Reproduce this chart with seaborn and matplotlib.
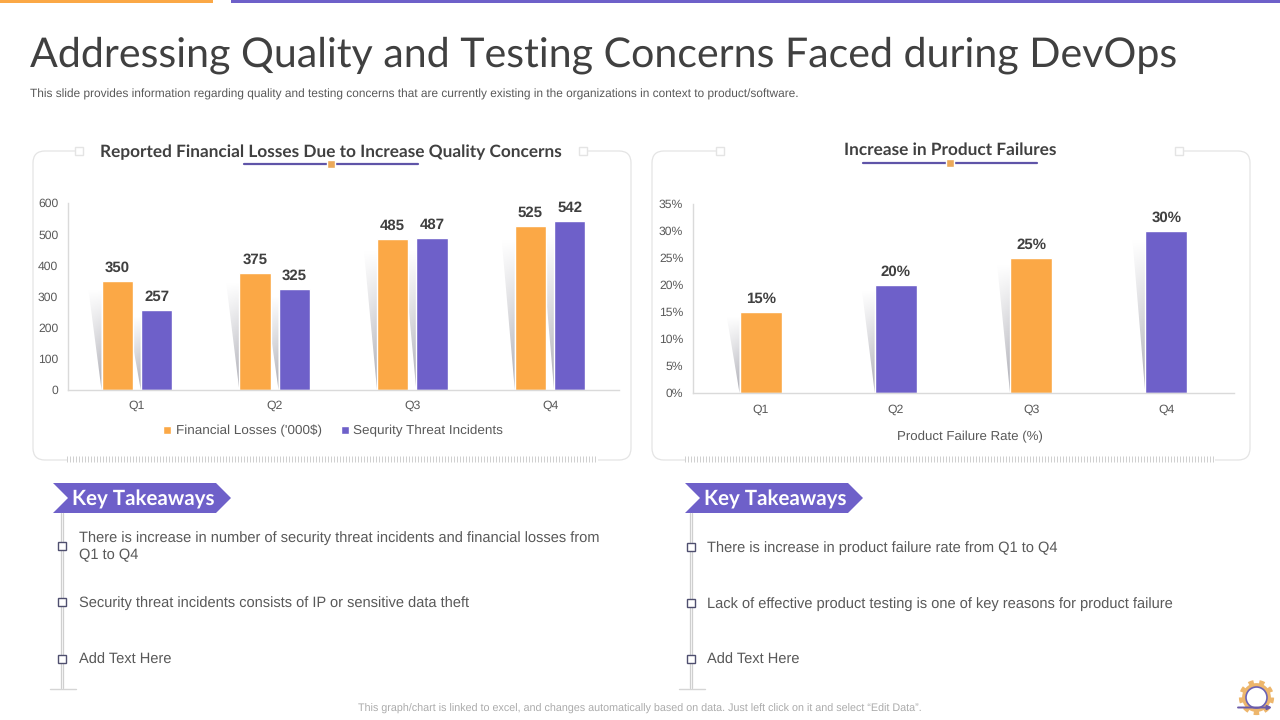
import numpy as np
import pandas as pd
import seaborn as sns
import matplotlib.pyplot as plt
from matplotlib.colors import LinearSegmentedColormap
from matplotlib.patches import Circle, FancyBboxPatch, Polygon, Rectangle

quarters = ["Q1", "Q2", "Q3", "Q4"]
financial_losses = [350, 375, 485, 525]
security_incidents = [257, 325, 487, 542]
failure_rate = [15, 20, 25, 30]
loss_ticks = [0, 100, 200, 300, 400, 500, 600]
rate_ticks = [0, 5, 10, 15, 20, 25, 30, 35]

ORANGE = "#FBA846"
PURPLE = "#6E60C9"
DARK = "#404040"
GREY = "#595959"
EDGE = "#E4E4E4"

sns.set_theme(style="white")
plt.rcParams["font.family"] = ["Liberation Sans", "DejaVu Sans"]
plt.rcParams["text.hinting"] = "no_hinting"

fig = plt.figure(figsize=(12.8, 7.2), dpi=100, facecolor="white")

# background layer works in pixels of the slide
bg = fig.add_axes([0, 0, 1, 1])
bg.set_xlim(0, 1280)
bg.set_ylim(720, 0)
bg.axis("off")

bg.add_patch(Rectangle((0, 0), 213, 3, color=ORANGE, lw=0))
bg.add_patch(Rectangle((231, 0), 1049, 3, color=PURPLE, lw=0))

bg.text(30, 55, "Addressing Quality and Testing Concerns Faced during DevOps",
        family="Lato", fontsize=29.6, color=DARK, va="center")
bg.text(30, 94, "This slide provides information regarding quality and testing concerns "
        "that are currently existing in the organizations in context to product/software.",
        fontsize=8.6, color=GREY, va="center")


def panel(x0, x1, gap0, gap1, strip0, strip1, title, title_y, title_x, under0, under1, under_y):
    bg.add_patch(FancyBboxPatch((x0 + 12, 163), x1 - x0 - 24, 285, boxstyle="round,pad=12,rounding_size=12",
                                fc="none", ec=EDGE, lw=0.9))
    bg.add_patch(Rectangle((gap0, 148), gap1 - gap0, 6, color="white", lw=0, zorder=2))
    bg.add_patch(Rectangle((strip0, 456), strip1 - strip0, 7, color="white", lw=0, zorder=2))
    bg.vlines(np.arange(strip0, strip1, 3), 456, 462, color="#CFCFCF", lw=0.7, zorder=3)
    for sx in (gap0, gap1):
        bg.add_patch(Rectangle((sx - 4, 147), 8, 8, fc="white", ec=EDGE, lw=1, zorder=3))
    bg.text(title_x, title_y, title, family="Lato", fontweight="bold", fontsize=12.4, color=DARK,
            ha="center", va="center", zorder=4)
    bg.plot([under0, under1], [under_y, under_y], color="#5F54A8", lw=1.6, zorder=3)
    mid = (under0 + under1) / 2
    bg.add_patch(Rectangle((mid - 4, under_y - 4), 8, 8, fc="#EBA95A", ec="white", lw=1, zorder=4))


panel(33, 631, 79, 583, 67, 598, "Reported Financial Losses Due to Increase Quality Concerns",
      152, 331, 244, 418, 163.5)
panel(652, 1250, 720, 1179, 685, 1215, "Increase in Product Failures", 150, 950, 863, 1037, 162.5)


def takeaways(x_line, x_text, ribbon_x, items):
    r = ribbon_x
    bg.add_patch(Polygon([(r, 483), (r + 163, 483), (r + 178, 498), (r + 163, 513), (r, 513), (r + 15, 498)],
                         color=PURPLE, lw=0))
    bg.text(r + 19, 499, "Key Takeaways", family="Lato", fontweight="bold", fontsize=14.8, color="white",
            va="center")
    for dx in (-1, 1):
        bg.plot([x_line + dx, x_line + dx], [513, 688], color="#CFCFCF", lw=0.9)
    bg.plot([x_line - 12, x_line + 14], [688.5, 688.5], color="#D5D5D5", lw=1)
    for y_mark, y_txt, txt in items:
        bg.add_patch(Rectangle((x_line - 4, y_mark - 4), 8, 8, fc="white", ec="#4F4F6F", lw=1, zorder=3))
        bg.text(x_text, y_txt, txt, fontsize=10.5, color=GREY, va="center", linespacing=1.3)


takeaways(62, 79, 53, [
    (546, 546.5, "There is increase in number of security threat incidents and financial losses from\nQ1 to Q4"),
    (602, 603, "Security threat incidents consists of IP or sensitive data theft"),
    (659, 660, "Add Text Here"),
])
takeaways(691, 707, 685, [
    (547, 548, "There is increase in product failure rate from Q1 to Q4"),
    (603, 604, "Lack of effective product testing is one of key reasons for product failure"),
    (659, 660, "Add Text Here"),
])

bg.text(640, 709, "This graph/chart is linked to excel, and changes automatically based on data. "
        "Just left click on it and select \u201cEdit Data\u201d.", fontsize=7.75, color="#ABABAB",
        ha="center", va="center")

# little gear logo, bottom right corner
angles = np.linspace(0, 2 * np.pi, 721)
radii = 16 + 1.6 * np.sign(np.sin(angles * 9))
bg.add_patch(Polygon(np.c_[1256.5 + radii * np.cos(angles), 697.5 + radii * np.sin(angles)], color="#EDB66C", lw=0))
bg.add_patch(Circle((1256.5, 697.5), 10.5, fc="white", ec="#6A62B5", lw=1.2))
bg.annotate("", xy=(1272, 707.5), xytext=(1238, 707.5),
            arrowprops=dict(arrowstyle="-|>", color="#6A5AA8", lw=1.4, mutation_scale=6, shrinkA=0, shrinkB=0))

shadow_cmap = LinearSegmentedColormap.from_list("shadow", ["#FFFFFF", "#ACACB4"])


def add_shadows(ax, dx, top):
    # soft slanted shadow left of every bar
    ax.set_autoscale_on(False)
    gy, gx = np.mgrid[0:1:60j, 0:1:30j]
    grad = gy * (0.7 + 0.3 * gx)
    for cont in ax.containers:
        for bar in cont:
            x0, h = bar.get_x(), bar.get_height()
            im = ax.imshow(grad, extent=(x0 - dx, x0, 0, h * top), origin="upper", aspect="auto",
                           cmap=shadow_cmap, vmin=0, vmax=1, zorder=0.5)
            clip = Polygon([(x0, 0), (x0 - dx, h * top), (x0, h * top)], transform=ax.transData)
            im.set_clip_path(clip)


def style_axes(ax, pad_x, pad_y):
    sns.despine(ax=ax)
    ax.patch.set_alpha(0)
    for side in ("left", "bottom"):
        ax.spines[side].set_color("#DADADA")
        ax.spines[side].set_linewidth(1)
    ax.tick_params(axis="x", length=0, labelsize=8.8, labelcolor=GREY, pad=pad_x)
    ax.tick_params(axis="y", length=0, labelsize=8.7, labelcolor=GREY, pad=pad_y)
    ax.set_ylabel("")


# left chart
ax1 = fig.add_axes([68 / 1280, 1 - 390 / 720, 551 / 1280, 187 / 720])
loss_df = pd.DataFrame({
    "quarter": quarters * 2,
    "value": financial_losses + security_incidents,
    "series": ["Financial Losses ('000$)"] * 4 + ["Sequrity Threat Incidents"] * 4,
})
sns.barplot(data=loss_df, x="quarter", y="value", hue="series", palette=[ORANGE, PURPLE],
            width=0.57, gap=0.2, saturation=1, ax=ax1)
ax1.set_ylim(0, 600)
ax1.set_yticks(loss_ticks)
ax1.set_xlabel("")
style_axes(ax1, 7, 7)
add_shadows(ax1, 0.095, 0.92)
for cont in ax1.containers:
    ax1.bar_label(cont, padding=4.5, fontsize=10.8, fontweight="bold", color=DARK)
ax1.legend(loc="center", bbox_to_anchor=(0.481, -0.22), ncol=2, frameon=False, fontsize=9.7,
           labelcolor=GREY, handlelength=0.6, handleheight=0.6, handletextpad=0.35, columnspacing=1.4)

# right chart
ax2 = fig.add_axes([693 / 1280, 1 - 393 / 720, 541 / 1280, 189 / 720])
rate_df = pd.DataFrame({"quarter": quarters, "rate": failure_rate})
sns.barplot(data=rate_df, x="quarter", y="rate", hue="quarter", palette=[ORANGE, PURPLE, ORANGE, PURPLE],
            width=0.312, saturation=1, legend=False, ax=ax2)
ax2.set_ylim(0, 35)
ax2.set_yticks(rate_ticks)
ax2.set_yticklabels([f"{t}%" for t in rate_ticks])
ax2.set_xlabel("Product Failure Rate (%)", fontsize=9.5, color=GREY, labelpad=11, x=0.512)
style_axes(ax2, 8, 7)
add_shadows(ax2, 0.095, 0.95)
for cont in ax2.containers:
    ax2.bar_label(cont, fmt="%g%%", padding=4.5, fontsize=10.8, fontweight="bold", color=DARK)

fig.savefig("out.png", dpi=100)
